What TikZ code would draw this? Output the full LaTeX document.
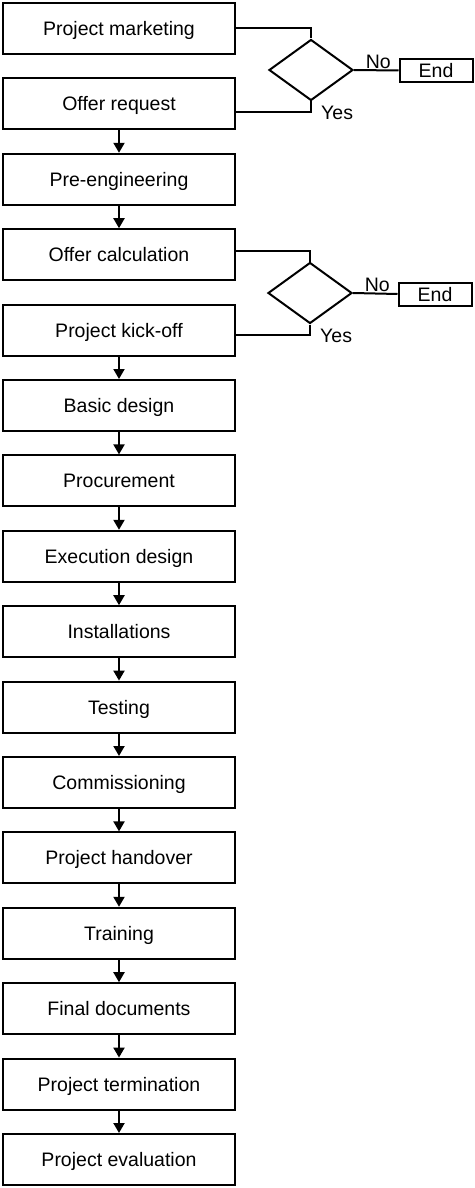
\documentclass[tikz,border=0pt]{standalone}
\usepackage{fontspec}
\setmainfont{Liberation Sans}
\usetikzlibrary{arrows.meta, shapes.geometric, positioning}

\tikzset{
	stage/.style = {draw, line width=2pt, minimum width=232pt, minimum height=51pt, inner sep=0pt, text height=14pt, text depth=0pt},
	decision/.style = {draw, diamond, line width=2pt, minimum width=84pt, minimum height=61pt, inner sep=0pt},
	endbox/.style = {draw, line width=2pt, minimum width=73pt, minimum height=23pt, inner sep=0pt, text height=14pt, text depth=0pt},
	flow/.style = {line width=2pt, -{Triangle[width=11pt, length=10pt]}},
	link/.style = {line width=2pt},
	tag/.style = {inner sep=1pt}
}

\begin{document}
\begin{tikzpicture}[x=1pt, y=-1pt, font=\fontsize{19.5}{22}\selectfont]
	\useasboundingbox (0,0) rectangle (474,1188);
	\foreach \name [count=\i from 0] in {Project marketing, Offer request, Pre-engineering, Offer calculation, Project kick-off, Basic design, Procurement, Execution design, Installations, Testing, Commissioning, Project handover, Training, Final documents, Project termination, Project evaluation}
		\node[stage] (s\i) at (119, {28.5 + 75.4*\i}) {\name};
	\foreach \a [evaluate=\a as \b using int(\a+1)] in {1,2,4,5,6,7,8,9,10,11,12,13,14}
		\draw[flow] (s\a) -- (s\b);
	% first go / no go
	\node[decision] (d1) at (311,70) {};
	\node[endbox] (e1) at (436,70.5) {End};
	\draw[link] (s0.east) -| (d1.north);
	\draw[link] (d1.south) |- ([yshift=-8pt]s1.east);
	\draw[link] (d1.east) -- node[tag, above, xshift=2pt] {No} (e1.west);
	\node[tag, anchor=north west] (y1) at ([xshift=9pt, yshift=-3pt]d1.south) {Yes};
	% second go / no go
	\node[decision] (d2) at (310,293) {};
	\node[endbox] (e2) at (435,294) {End};
	\draw[link] ([yshift=4pt]s3.east) -| (d2.north);
	\draw[link] (d2.south) |- ([yshift=-5pt]s4.east);
	\draw[link] (d2.east) -- node[tag, above, xshift=2pt] {No} (e2.west);
	\node[tag, anchor=north west] (y2) at ([xshift=9pt, yshift=-3pt]d2.south) {Yes};
\end{tikzpicture}
\end{document}
